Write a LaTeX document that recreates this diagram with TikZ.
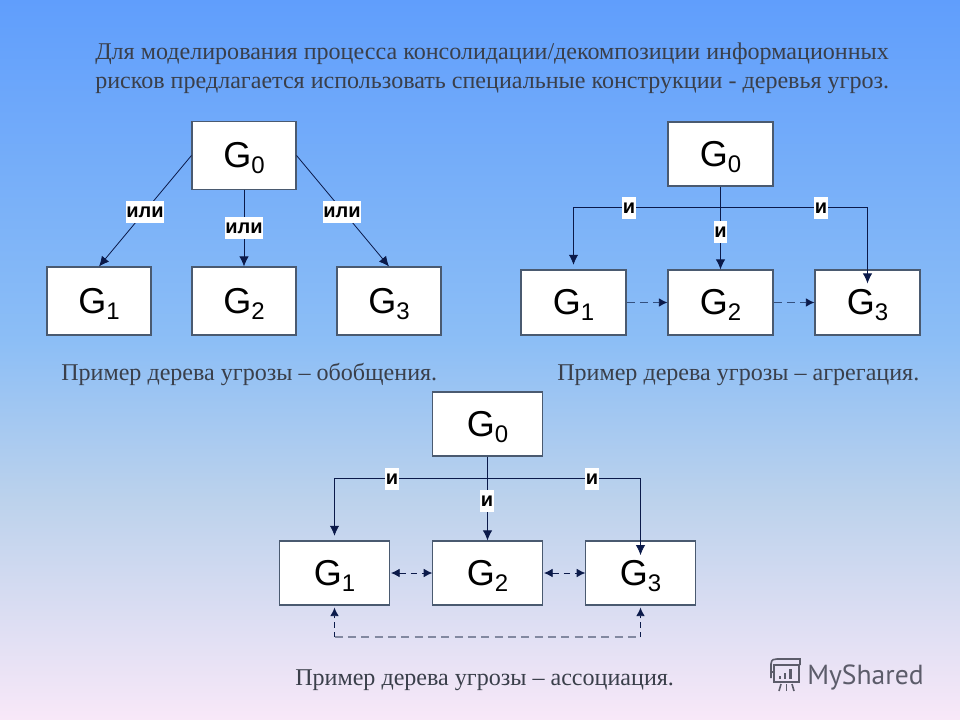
\documentclass[tikz,border=0pt]{standalone}
\usepackage{fontspec}
\setmainfont{Liberation Serif}
\newfontfamily\gfont{Liberation Sans}
\newfontfamily\wmfont{PT Sans}
\usetikzlibrary{arrows.meta}
\definecolor{navy}{HTML}{0B1A4A}
\definecolor{dashblue}{HTML}{33507F}
\definecolor{dashgrey}{HTML}{8288A0}
\definecolor{boxedge}{HTML}{4A5A70}
\definecolor{txt}{HTML}{3A3F4A}
\definecolor{wm}{HTML}{5C5C6A}
\tikzset{
  x=0.75pt,y=-0.75pt,
  gbox/.style={draw=boxedge,line width=0.8pt,fill=white,minimum width=#1,inner sep=0pt,font=\gfont\fontsize{27}{27}\selectfont},
  conn/.style={draw=navy,line width=0.6pt,-{Latex[length=7.5pt,width=7pt]}},
  dashconn/.style={draw=dashblue,line width=0.7pt,dash pattern=on 6pt off 4pt,-{Latex[length=6.5pt,width=6.5pt,color=navy]}},
  dashboth/.style={draw=navy,line width=0.6pt,dash pattern=on 5pt off 3.5pt,{Latex[length=6.5pt,width=6.5pt]}-{Latex[length=6.5pt,width=6.5pt]}},
  oplabel/.style={fill=white,inner xsep=0.5pt,inner ysep=0pt,minimum height=16pt,text=black,font=\gfont\bfseries\fontsize{15}{15}\selectfont},
  caption/.style={anchor=base west,inner sep=0pt,text=txt,font=\fontsize{18.05}{18.05}\selectfont},
}
\newcommand{\gsym}[1]{\rule{0pt}{23pt}G\raisebox{-0.16em}{\fontsize{18}{18}\selectfont #1}}
\begin{document}
\begin{tikzpicture}
\useasboundingbox (0,0) rectangle (960,720);
\shade[top color={rgb,255:red,96;green,158;blue,252},bottom color={rgb,255:red,140;green,190;blue,246}] (0,0) rectangle (960,340.5);
\shade[top color={rgb,255:red,140;green,190;blue,246},bottom color={rgb,255:red,188;green,210;blue,236}] (0,340) rectangle (960,500.5);
\shade[top color={rgb,255:red,188;green,210;blue,236},bottom color={rgb,255:red,248;green,232;blue,248}] (0,500) rectangle (960,720);

% title
\node[caption] (t1) at (95,60) {Для моделирования процесса консолидации/декомпозиции информационных};
\node[caption] (t2) at (95,88.5) {рисков предлагается использовать специальные конструкции - деревья угроз.};

% tree 1
\node[gbox=78pt,minimum height=50.5pt] (a0) at (244,155.5) {\gsym{0}};
\node[gbox=78pt,minimum height=51pt] (a1) at (99,301) {\gsym{1}};
\node[gbox=78pt,minimum height=51pt] (a2) at (244,301) {\gsym{2}};
\node[gbox=78pt,minimum height=51pt] (a3) at (389,301) {\gsym{3}};
\draw[conn] (a0.west) -- (a1.north);
\draw[conn] (a0.south) -- (a2.north);
\draw[conn] (a0.east) -- (a3.north);
\node[oplabel] (la1) at (145,212) {или};
\node[oplabel] (la2) at (244,228) {или};
\node[oplabel] (la3) at (342,212) {или};
\node[caption] (c1) at (61,380) {Пример дерева угрозы – обобщения.};

% tree 2
\node[gbox=78.75pt,minimum height=48pt] (b0) at (720.5,154) {\gsym{0}};
\node[gbox=78.75pt,minimum height=48.75pt] (b1) at (573.5,302.5) {\gsym{1}};
\node[gbox=78.75pt,minimum height=48.75pt] (b2) at (720.5,302.5) {\gsym{2}};
\node[gbox=78.75pt,minimum height=48.75pt] (b3) at (867.5,302.5) {\gsym{3}};
\coordinate (bbus) at (720.5,207);
\draw[conn] (b0.south) -- (b2.north);
\draw[conn,shorten >=3.5pt] (bbus) -| (b1.north);
\draw[conn,shorten >=-10.5pt] (bbus) -| (b3.north);
\draw[dashconn] (b1.east) -- (b2.west);
\draw[dashconn] (b2.east) -- (b3.west);
\node[oplabel] (lb1) at (629,208) {и};
\node[oplabel] (lb2) at (720.5,232) {и};
\node[oplabel] (lb3) at (821,208) {и};
\node[caption] (c2) at (557,380) {Пример дерева угрозы – агрегация.};

% tree 3
\node[gbox=82pt,minimum height=48pt] (d0) at (487.5,424) {\gsym{0}};
\node[gbox=82pt,minimum height=48pt] (d1) at (334.5,573) {\gsym{1}};
\node[gbox=82pt,minimum height=48pt] (d2) at (487.5,573) {\gsym{2}};
\node[gbox=82pt,minimum height=48pt] (d3) at (640.5,573) {\gsym{3}};
\coordinate (dbus) at (487.5,478);
\coordinate (dl) at (334.5,637);
\coordinate (dr) at (640.5,637);
\draw[conn] (d0.south) -- (d2.north);
\draw[conn,shorten >=3.5pt] (dbus) -| (d1.north);
\draw[conn,shorten >=-11pt] (dbus) -| (d3.north);
\draw[dashboth,shorten <=1pt] (d1.east) -- (d2.west);
\draw[dashboth,shorten <=1pt] (d2.east) -- (d3.west);
\draw[draw=dashgrey,line width=0.8pt,dash pattern=on 6pt off 4pt] (dl) -- (dr);
\draw[dashconn,draw=navy,dash pattern=on 4pt off 3pt,shorten >=1.5pt] (dl) -- (d1.south);
\draw[dashconn,draw=navy,dash pattern=on 4pt off 3pt,shorten >=1.5pt] (dr) -- (d3.south);
\node[oplabel] (ld1) at (392,479) {и};
\node[oplabel] (ld2) at (487,501) {и};
\node[oplabel] (ld3) at (592,479) {и};
\node[caption] (c3) at (295,685.5) {Пример дерева угрозы – ассоциация.};

% watermark
\begin{scope}[draw=wm,line width=1.2pt]
  \draw (774,665) rectangle (799,682);
  \draw (771,678) -- (771,664) .. controls (771,659) and (775,659) .. (777,659) -- (800,659) -- (800,665);
  \draw (771,664) -- (771,672) -- (774,672);
  \fill[wm] (779,676) rectangle (781,679);
  \fill[wm] (784,673) rectangle (786,679);
  \fill[wm] (789,669) rectangle (792,679);
  \draw (781,684) -- (779,691);
  \draw (786.5,684) -- (786.5,691);
  \draw (792,684) -- (794,691);
\end{scope}
\node[anchor=base west,inner sep=0pt,text=wm,font=\wmfont\fontsize{20.7}{20.7}\selectfont] (wmark) at (807,684) {MyShared};
\end{tikzpicture}
\end{document}
